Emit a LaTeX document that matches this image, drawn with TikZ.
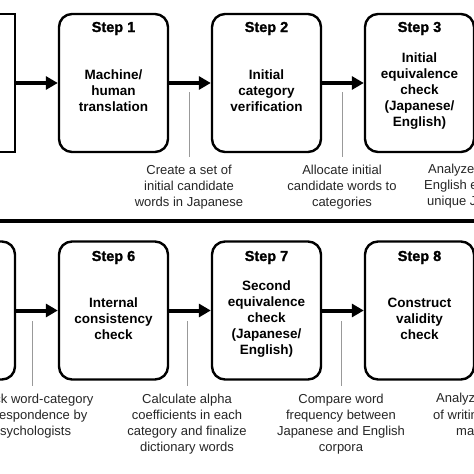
\documentclass[tikz,border=0pt]{standalone}
\usepackage{fontspec}
\setmainfont{Liberation Sans}
\newfontfamily\stepfont{Liberation Sans Bold}[FakeBold=1.2]
\usetikzlibrary{arrows.meta}
\begin{document}
\begin{tikzpicture}[x=1pt,y=-1pt,
  stepbox/.style={draw=black, line width=2.4pt, rounded corners=13pt, minimum width=109pt, minimum height=138pt, inner sep=0pt},
  startbox/.style={draw=black, line width=2.4pt, minimum width=109pt, minimum height=138pt, inner sep=0pt},
  steplabel/.style={font=\fontsize{14.5}{16}\stepfont, inner sep=0pt, anchor=base},
  bodytext/.style={font=\fontsize{13.5}{16}\selectfont\bfseries, align=center, inner sep=0pt},
  note/.style={font=\fontsize{13}{16}\selectfont, align=center, inner sep=0pt, text=black!85, anchor=north},
  cutnote/.style={font=\fontsize{13}{16}\selectfont, inner sep=0pt, text=black!85, anchor=base west},
  flow/.style={line width=4pt, -{Triangle[length=12pt,width=13pt]}},
  leader/.style={draw=black!40, line width=0.9pt},
  sepline/.style={line width=4pt}]
\useasboundingbox (0,0) rectangle (474,474);
\clip (0,0) rectangle (474,474);
\fill[white] (0,0) rectangle (474,474);

% top row
\node[startbox] (s0) at (-39.5,83) {};
\node[stepbox] (s1) at (113.5,83) {};
\node[stepbox] (s2) at (266.5,83) {};
\node[stepbox] (s3) at (419.5,83) {};
\node[steplabel] (h1) at (113.5,32) {Step 1};
\node[steplabel] (h2) at (266.5,32) {Step 2};
\node[steplabel] (h3) at (419.5,32) {Step 3};
\node[bodytext] (b1) at (113.5,91) {Machine/\\human\\translation};
\node[bodytext] (b2) at (266.5,91) {Initial\\category\\verification};
\node[bodytext] (b3) at (419.5,91) {Initial\\equivalence\\check\\(Japanese/\\English)};
\draw[flow] (s0) -- (s1);
\draw[flow] (s1) -- (s2);
\draw[flow] (s2) -- (s3);

\node[note] (n1) at (189,164.5) {Create a set of\\initial candidate\\words in Japanese};
\node[note] (n2) at (342,164.5) {Allocate initial\\candidate words to\\categories};
\node[cutnote] (r1) at (428,173.6) {Analyze};
\node[cutnote] (r2) at (424,189.6) {English e};
\node[cutnote] (r3) at (427,205.6) {unique J};
\coordinate (l1) at (189,92);
\coordinate (l2) at (342,92);
\draw[leader] (l1) -- ([yshift=7.5pt]n1.north);
\draw[leader] (l2) -- ([yshift=7.5pt]n2.north);

% separator
\coordinate (sepL) at (0,221);
\coordinate (sepR) at (474,221);
\draw[sepline] (sepL) -- (sepR);

% bottom row
\node[stepbox] (s5) at (-39.5,310.5) {};
\node[stepbox] (s6) at (113.5,310.5) {};
\node[stepbox] (s7) at (266.5,310.5) {};
\node[stepbox] (s8) at (419.5,310.5) {};
\node[steplabel] (h6) at (113.5,261) {Step 6};
\node[steplabel] (h7) at (266.5,261) {Step 7};
\node[steplabel] (h8) at (419.5,261) {Step 8};
\node[bodytext] (b6) at (113.5,319) {Internal\\consistency\\check};
\node[bodytext] (b7) at (266.5,319) {Second\\equivalence\\check\\(Japanese/\\English)};
\node[bodytext] (b8) at (419.5,319) {Construct\\validity\\check};
\draw[flow] (s5) -- (s6);
\draw[flow] (s6) -- (s7);
\draw[flow] (s7) -- (s8);

\node[note] (n5) at (32,393.5) {Check word-category\\correspondence by\\psychologists};
\node[note] (n6) at (187,393.5) {Calculate alpha\\coefficients in each\\category and finalize\\dictionary words};
\node[note] (n7) at (341,393.5) {Compare word\\frequency between\\Japanese and English\\corpora};
\node[cutnote] (r5) at (436,402.6) {Analyz};
\node[cutnote] (r6) at (433,419.6) {of writin};
\node[cutnote] (r7) at (456,435.6) {ma};
\coordinate (l5) at (32,321);
\coordinate (l6) at (187,321);
\coordinate (l7) at (341,321);
\draw[leader] (l5) -- ([yshift=7.5pt]n5.north);
\draw[leader] (l6) -- ([yshift=7.5pt]n6.north);
\draw[leader] (l7) -- ([yshift=7.5pt]n7.north);
\end{tikzpicture}
\end{document}
